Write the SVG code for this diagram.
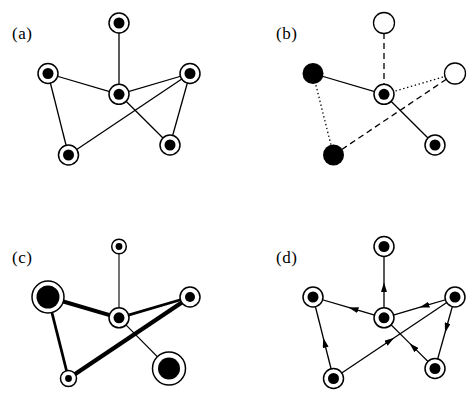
<svg xmlns="http://www.w3.org/2000/svg" width="474" height="407" viewBox="0 0 474 407">
<defs>
<style>
.lbl{font-family:"Liberation Serif","Times New Roman",serif;font-size:17px;fill:#000;letter-spacing:0.5px}
.e{stroke:#000;stroke-width:1.3;fill:none}
.dash{stroke-dasharray:6 4}
.dot{stroke-dasharray:1.4 2.6}
.ring{fill:#fff;stroke:#000;stroke-width:1.5}
.core{fill:#000}
.hollow{fill:#fff;stroke:#000;stroke-width:1.3}
.ar{marker-mid:url(#arr)}
</style>
<marker id="arr" markerUnits="userSpaceOnUse" markerWidth="10" markerHeight="6" viewBox="0 0 10 6" refX="10" refY="3" orient="auto">
<path d="M0,0 L10,3 L0,6 z" fill="#000"/>
</marker>
</defs>
<rect width="474" height="407" fill="#fff"/>
<text class="lbl" x="12" y="38.5">(a)</text>
<text class="lbl" x="276" y="38.5">(b)</text>
<text class="lbl" x="12" y="262.5">(c)</text>
<text class="lbl" x="276" y="262.5">(d)</text>
<g id="connectors">
<line class="e" x1="119" y1="23" x2="119" y2="94.3"/>
<line class="e" x1="48" y1="73.5" x2="119" y2="94.3"/>
<line class="e" x1="119" y1="94.3" x2="190" y2="73.5"/>
<line class="e" x1="48" y1="73.5" x2="68.5" y2="155"/>
<line class="e" x1="68.5" y1="155" x2="190" y2="73.5"/>
<line class="e" x1="119" y1="94.3" x2="170" y2="145"/>
<line class="e" x1="190" y1="73.5" x2="170" y2="145"/>
<line class="e dash" x1="384" y1="23" x2="384" y2="94.3"/>
<line class="e" x1="313" y1="73.5" x2="384" y2="94.3"/>
<line class="e dot" x1="384" y1="94.3" x2="455" y2="73.5"/>
<line class="e dot" x1="313" y1="73.5" x2="333.5" y2="155"/>
<line class="e dash" x1="333.5" y1="155" x2="455" y2="73.5"/>
<line class="e" x1="384" y1="94.3" x2="435" y2="145"/>
<line class="e" x1="119" y1="246.5" x2="119" y2="317.8" style="stroke-width:1.1"/>
<line class="e" x1="48" y1="297" x2="119" y2="317.8" style="stroke-width:4"/>
<line class="e" x1="119" y1="317.8" x2="190" y2="297" style="stroke-width:2.8"/>
<line class="e" x1="48" y1="297" x2="68.5" y2="378.5" style="stroke-width:2.8"/>
<line class="e" x1="68.5" y1="378.5" x2="190" y2="297" style="stroke-width:4.4"/>
<line class="e" x1="119" y1="317.8" x2="169" y2="368.5" style="stroke-width:1.1"/>
<path class="e ar" d="M384,317.8 L384,282.15 L384,246.5"/>
<path class="e ar" d="M384,317.8 L348.5,307.4 L313,297"/>
<path class="e ar" d="M455,297 L419.5,307.4 L384,317.8"/>
<path class="e ar" d="M455,297 L445,332.75 L435,368.5"/>
<path class="e ar" d="M435,368.5 L409.5,343.15 L384,317.8"/>
<path class="e ar" d="M333.5,378.5 L323.25,337.75 L313,297"/>
<path class="e ar" d="M333.5,378.5 L394.25,337.75 L455,297"/>
</g>
<g id="a-top"><circle class="ring" cx="119" cy="23" r="10"/><circle class="core" cx="119" cy="23" r="5.5"/></g>
<g id="a-left"><circle class="ring" cx="48" cy="73.5" r="10"/><circle class="core" cx="48" cy="73.5" r="5.5"/></g>
<g id="a-center"><circle class="ring" cx="119" cy="94.3" r="10"/><circle class="core" cx="119" cy="94.3" r="5.5"/></g>
<g id="a-right"><circle class="ring" cx="190" cy="73.5" r="10"/><circle class="core" cx="190" cy="73.5" r="5.5"/></g>
<g id="a-bl"><circle class="ring" cx="68.5" cy="155" r="10"/><circle class="core" cx="68.5" cy="155" r="5.5"/></g>
<g id="a-br"><circle class="ring" cx="170" cy="145" r="10"/><circle class="core" cx="170" cy="145" r="5.5"/></g>
<g id="b-top"><circle class="hollow" cx="384" cy="23" r="10.5"/></g>
<g id="b-left"><circle class="core" cx="313" cy="73.5" r="10.5"/></g>
<g id="b-center"><circle class="ring" cx="384" cy="94.3" r="10"/><circle class="core" cx="384" cy="94.3" r="5.5"/></g>
<g id="b-right"><circle class="hollow" cx="455" cy="73.5" r="10.5"/></g>
<g id="b-bl"><circle class="core" cx="333.5" cy="155" r="10.5"/></g>
<g id="b-br"><circle class="ring" cx="435" cy="145" r="10"/><circle class="core" cx="435" cy="145" r="5.5"/></g>
<g id="c-top"><circle class="ring" cx="119" cy="246.5" r="7.3"/><circle class="core" cx="119" cy="246.5" r="3.4"/></g>
<g id="c-left"><circle class="ring" cx="48" cy="297" r="16"/><circle class="core" cx="48" cy="297" r="11.5"/></g>
<g id="c-center"><circle class="ring" cx="119" cy="317.8" r="10"/><circle class="core" cx="119" cy="317.8" r="5.5"/></g>
<g id="c-right"><circle class="ring" cx="190" cy="297" r="10"/><circle class="core" cx="190" cy="297" r="5"/></g>
<g id="c-bl"><circle class="ring" cx="68.5" cy="378.5" r="8"/><circle class="core" cx="68.5" cy="378.5" r="3.4"/></g>
<g id="c-br"><circle class="ring" cx="169" cy="368.5" r="16.5"/><circle class="core" cx="169" cy="368.5" r="11"/></g>
<g id="d-top"><circle class="ring" cx="384" cy="246.5" r="10"/><circle class="core" cx="384" cy="246.5" r="5.5"/></g>
<g id="d-left"><circle class="ring" cx="313" cy="297" r="10"/><circle class="core" cx="313" cy="297" r="5.5"/></g>
<g id="d-center"><circle class="ring" cx="384" cy="317.8" r="10"/><circle class="core" cx="384" cy="317.8" r="5.5"/></g>
<g id="d-right"><circle class="ring" cx="455" cy="297" r="10"/><circle class="core" cx="455" cy="297" r="5.5"/></g>
<g id="d-bl"><circle class="ring" cx="333.5" cy="378.5" r="10"/><circle class="core" cx="333.5" cy="378.5" r="5.5"/></g>
<g id="d-br"><circle class="ring" cx="435" cy="368.5" r="10"/><circle class="core" cx="435" cy="368.5" r="5.5"/></g>
</svg>
